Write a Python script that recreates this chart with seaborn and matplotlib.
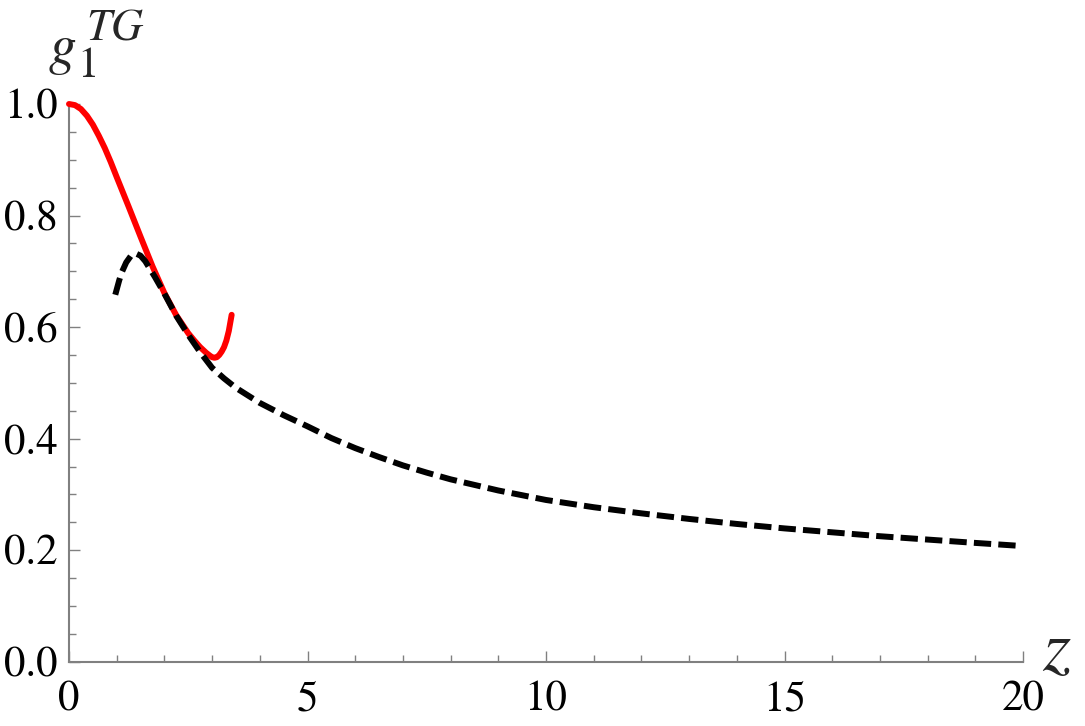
import numpy as np
import pandas as pd
import matplotlib
matplotlib.use("Agg")
import matplotlib.pyplot as plt
import seaborn as sns
from matplotlib.ticker import MultipleLocator

# red solid curve (small z)
z_red = [0.0, 0.125, 0.25, 0.375, 0.5, 0.625, 0.75, 0.875, 1.0, 1.25, 1.5,
         1.75, 2.0, 2.25, 2.5, 2.625, 2.75, 2.875, 2.95, 3.0, 3.05, 3.1,
         3.15, 3.2, 3.25, 3.3, 3.35, 3.41]
g_red = [1.0, 0.998, 0.991, 0.979, 0.963, 0.943, 0.921, 0.896, 0.869, 0.816,
         0.762, 0.709, 0.661, 0.621, 0.589, 0.576, 0.564, 0.554, 0.549, 0.546,
         0.545, 0.546, 0.550, 0.556, 0.564, 0.576, 0.593, 0.622]

# black dashed curve (large z)
z_blk = [0.97, 1.05, 1.1, 1.2, 1.3, 1.4, 1.5, 1.6, 1.7, 1.8, 1.9, 2.0, 2.25,
         2.5, 2.75, 3.0, 3.25, 3.5, 4.0, 4.5, 5.0, 5.5, 6.0, 6.5, 7.0, 7.5,
         8.0, 9.0, 10.0, 11.0, 12.0, 13.0, 14.0, 15.0, 16.0, 17.0, 18.0, 19.0,
         19.88]
g_blk = [0.658, 0.683, 0.697, 0.716, 0.728, 0.732, 0.728, 0.718, 0.704, 0.690,
         0.675, 0.660, 0.620, 0.586, 0.555, 0.527, 0.508, 0.491, 0.464, 0.442,
         0.422, 0.401, 0.383, 0.367, 0.352, 0.339, 0.327, 0.307, 0.290, 0.277,
         0.266, 0.256, 0.247, 0.239, 0.232, 0.225, 0.219, 0.213, 0.208]

x_ticks = [0, 5, 10, 15, 20]
y_ticks = [0.0, 0.2, 0.4, 0.6, 0.8, 1.0]

sns.set_style("ticks")
plt.rcParams['font.family'] = ['STIXGeneral', 'DejaVu Serif']
plt.rcParams['mathtext.fontset'] = 'stix'

fig = plt.figure(figsize=(10.85, 7.26), dpi=100)
ax = fig.add_axes([69 / 1085, 64.3 / 726, 954 / 1085, 557.7 / 726])

red = pd.DataFrame({'z': z_red, 'g': g_red})
blk = pd.DataFrame({'z': z_blk, 'g': g_blk})

sns.lineplot(data=red, x='z', y='g', ax=ax, color='#ff0000', linewidth=4.3,
             sort=False, clip_on=False, zorder=3)
sns.lineplot(data=blk, x='z', y='g', ax=ax, color='black', linewidth=4.3,
             sort=False, clip_on=False, zorder=4)
ax.lines[-1].set_dashes((2.9, 1.2))
ax.lines[-1].set_dash_capstyle('butt')

ax.set_xlim(0, 20)
ax.set_ylim(0, 1.0)
ax.set_xticks(x_ticks)
ax.set_yticks(y_ticks)
ax.set_xticklabels([str(t) for t in x_ticks])
ax.set_yticklabels([f"{t:.1f}" for t in y_ticks])
ax.xaxis.set_minor_locator(MultipleLocator(1))
ax.yaxis.set_minor_locator(MultipleLocator(0.05))

for s in ['top', 'right']:
    ax.spines[s].set_visible(False)
for s in ['left', 'bottom']:
    ax.spines[s].set_color('#808080')
    ax.spines[s].set_linewidth(1.5)

ax.tick_params(which='major', direction='in', length=8, width=1,
               color='#808080', labelsize=31, labelcolor='black')
ax.tick_params(which='minor', direction='in', length=5, width=1,
               color='#808080')
ax.tick_params(axis='x', which='major', pad=14)
ax.tick_params(axis='y', which='major', pad=8)

ax.set_xlabel('')
ax.set_ylabel('')

# axis labels, Mathematica style
ax.text(1.035, 0.015, '$z$', transform=ax.transAxes, fontsize=52,
        ha='center', va='center')
fig.text(48 / 1085, 1 - 63 / 726, '$g$', fontsize=40, ha='left', va='baseline')
fig.text(77 / 1085, 1 - 77 / 726, '1', fontsize=31, ha='left', va='baseline')
fig.text(86 / 1085, 1 - 40 / 726, '$TG$', fontsize=32, ha='left', va='baseline')

fig.savefig('out.png', dpi=100)
